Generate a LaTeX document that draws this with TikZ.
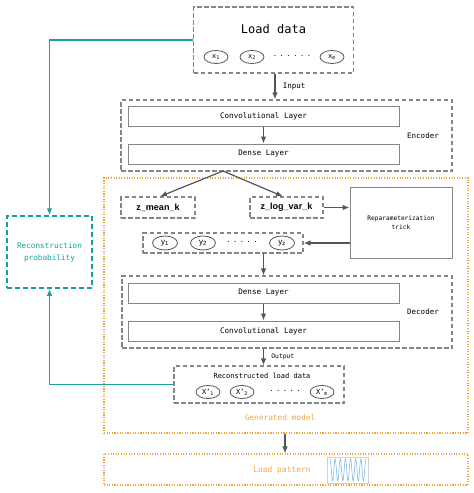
\documentclass[tikz,border=0pt]{standalone}
\usepackage{fontspec}
\setmainfont{DejaVu Sans Mono}
\newfontfamily\boldsans{Liberation Sans}
\usetikzlibrary{positioning,shapes.geometric,arrows.meta,calc}
\definecolor{boxgray}{HTML}{858585}
\definecolor{arrowgray}{HTML}{555555}
\definecolor{linkteal}{HTML}{17A09A}
\definecolor{genorange}{HTML}{F2A73B}
\definecolor{waveblue}{HTML}{6FB3E0}
\newcommand{\fs}[1]{\fontsize{#1}{#1}\selectfont}
\newcommand{\dotrow}[1]{\foreach \d in {1,...,#1}{.\hspace{2.6pt}}}

\begin{document}
\begin{tikzpicture}[
    x=1pt, y=-1pt,
    dashbox/.style={
        rectangle,
        draw=boxgray,
        line width=1.1pt,
        dash pattern=on 4.5pt off 2.5pt
    },
    layer/.style={
        rectangle,
        draw=boxgray,
        line width=1pt,
        minimum width=271pt,
        minimum height=20pt,
        font=\fs{7.6}
    },
    var/.style={
        ellipse,
        draw=arrowgray,
        line width=0.8pt,
        minimum width=24pt,
        minimum height=13pt,
        inner sep=0pt,
        font=\fs{7}
    },
    genbox/.style={
        rectangle,
        draw=genorange,
        line width=1.1pt,
        dash pattern=on 1.1pt off 1.5pt
    },
    line/.style={draw=arrowgray, line width=1.2pt, -{Latex[length=7pt,width=5.5pt]}},
    tealline/.style={draw=linkteal, line width=1.6pt, -{Latex[length=7pt,width=5.5pt]}}
]
    \useasboundingbox (0,0) rectangle (474,493);

    % Input data
    \node[dashbox, minimum width=160pt, minimum height=66pt] (load) at (273.5,40) {};
    \node[font=\fs{12}] (loadtitle) at (273.5,29) {Load data};
    \node[var] (x1) at (216,57) {x\textsubscript{1}};
    \node[var] (x2) at (252,57) {x\textsubscript{2}};
    \node[font=\fs{7}] (xdots) at (292,56) {\dotrow{6}};
    \node[var] (xm) at (332,57) {x\textsubscript{m}};

    % Encoder
    \node[dashbox, minimum width=331pt, minimum height=71pt] (enc) at (286.5,135.5) {};
    \node[layer] (conv1) at (263.5,116) {Convolutional Layer};
    \node[layer] (dense1) at (263.5,154) {Dense Layer};
    \node[font=\fs{7.5}] (enclabel) at (423,136) {Encoder};

    % Generated model
    \node[genbox, minimum width=364pt, minimum height=255pt] (gen) at (286,305.5) {};
    \node[text=genorange, font=\fs{7.8}] (genlabel) at (280,418) {Generated model};

    % Latent space
    \node[dashbox, minimum width=74pt, minimum height=21pt, font=\boldsans\bfseries\fs{9}] (zmean) at (158,207.5) {z\_mean\_k};
    \node[dashbox, minimum width=73pt, minimum height=21pt, font=\boldsans\bfseries\fs{9}] (zlog) at (286.5,207.5) {z\_log\_var\_k};
    \node[draw=boxgray, line width=1pt, minimum width=102pt, minimum height=71pt, align=center, font=\fontsize{6.2}{9}\selectfont] (rep) at (401,222.5) {Reparameterization\\trick};
    \node[dashbox, minimum width=160pt, minimum height=20pt] (ybox) at (223,243) {};
    \node[var, minimum width=25pt, minimum height=14pt, font=\boldsans\fs{8}] (y1) at (165,243) {y\textsubscript{1}};
    \node[var, minimum width=25pt, minimum height=14pt, font=\boldsans\fs{8}] (y2) at (203,243) {y\textsubscript{2}};
    \node[font=\fs{7}] (ydots) at (242,242) {\dotrow{5}};
    \node[var, minimum width=25pt, minimum height=14pt, font=\boldsans\fs{8}] (yz) at (282,243) {y\textsubscript{z}};

    % Decoder
    \node[dashbox, minimum width=330pt, minimum height=72pt] (dec) at (287,312) {};
    \node[layer] (dense2) at (263.5,293) {Dense Layer};
    \node[layer] (conv2) at (263.5,331) {Convolutional Layer};
    \node[font=\fs{7.5}] (declabel) at (423,312) {Decoder};

    % Output data
    \node[dashbox, minimum width=170pt, minimum height=37pt] (recon) at (259,384.5) {};
    \node[font=\fs{7}] (recontitle) at (262,376) {Reconstructed load data};
    \node[var] (xr1) at (208,392) {X'\textsubscript{1}};
    \node[var] (xr2) at (242,392) {X'\textsubscript{2}};
    \node[font=\fs{7}] (xrdots) at (285,391) {\dotrow{5}};
    \node[var] (xrm) at (322,392) {X'\textsubscript{m}};

    % Reconstruction probability
    \node[dashbox, draw=linkteal, line width=1.5pt, dash pattern=on 5pt off 3pt, minimum width=85pt, minimum height=72pt, align=center, text=linkteal, font=\fontsize{7.7}{12}\selectfont] (recprob) at (49.5,252) {Reconstruction\\probability};

    % Load pattern
    \node[genbox, minimum width=364pt, minimum height=31pt] (pattern) at (286,469.5) {};
    \node[text=genorange, font=\fs{7.9}] (patternlabel) at (282,470) {Load pattern};
    \draw[gray!35, line width=0.3pt] (327,457) rectangle (368,483);
    \draw[waveblue, line width=0.5pt] plot[domain=0:1, samples=120] ({330+36*\x}, {470-11*cos(7*360*\x)});

    % Connections
    \draw[line] (load.south -| 275,0) -- (enc.north -| 275,0) node[midway, right=4pt, font=\fs{7.5}, text=black] {Input};
    \draw[line] (conv1) -- (dense1);
    \coordinate (fork) at (223,171);
    \draw[line] (fork) -- (zmean.north -| 160,0);
    \draw[line] (fork) -- (zlog.north -| 283,0);
    \draw[line] (zlog.east) -- (zlog.east -| rep.west);
    \draw[line] (rep.west |- ybox.east) -- (ybox.east);
    \draw[line] (ybox.south -| dense2.north) -- (dec.north -| dense2.north);
    \draw[line] (dense2) -- (conv2);
    \draw[line] (dec.south -| conv2.south) -- (recon.north -| conv2.south) node[midway, right=4pt, font=\fs{6.3}, text=black] {Output};
    \draw[line] (gen.south -| 285,0) -- (pattern.north -| 285,0);
    \draw[tealline] (load.west) -| (recprob.north);
    \draw[tealline] (recon.west) -| (recprob.south);
\end{tikzpicture}
\end{document}
